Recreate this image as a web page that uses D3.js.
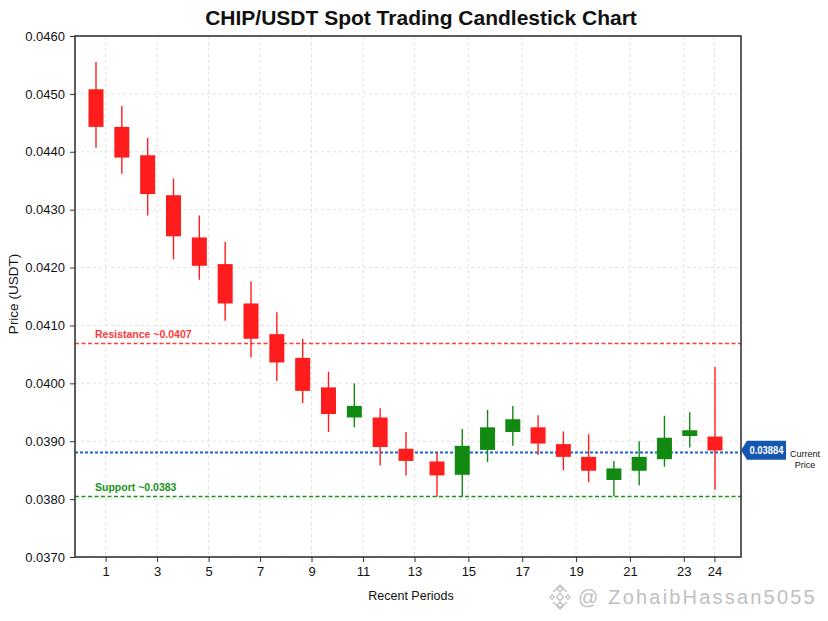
<!DOCTYPE html>
<html>
<head>
<meta charset="utf-8">
<script src="https://cdn.jsdelivr.net/npm/d3@7"></script>
<style>
body { margin: 0; background: #fff; }
text { font-family: "Liberation Sans", Arial, sans-serif; }
</style>
</head>
<body>
<script>
// candles, one per period
const Periods = [1, 2, 3, 4, 5, 6, 7, 8, 9, 10, 11, 12, 13, 14, 15, 16, 17, 18, 19, 20, 21, 22, 23, 24, 25]
const Open  = [0.04508, 0.04443, 0.04394, 0.04325, 0.04252, 0.04206, 0.04138, 0.04085, 0.04044, 0.03993, 0.03941, 0.03941, 0.03887, 0.03865, 0.03842, 0.03885, 0.03916, 0.03924, 0.03895, 0.03873, 0.03833, 0.03849, 0.03869, 0.03909, 0.03908]
const High  = [0.04555, 0.04479, 0.04424, 0.04354, 0.04290, 0.04244, 0.04176, 0.04123, 0.04077, 0.04020, 0.04000, 0.03957, 0.03916, 0.03880, 0.03921, 0.03954, 0.03961, 0.03945, 0.03917, 0.03912, 0.03866, 0.03900, 0.03944, 0.03950, 0.04028]
const Low   = [0.04407, 0.04362, 0.04290, 0.04214, 0.04179, 0.04108, 0.04045, 0.04004, 0.03966, 0.03916, 0.03924, 0.03858, 0.03841, 0.03804, 0.03804, 0.03864, 0.03892, 0.03876, 0.03850, 0.03829, 0.03805, 0.03824, 0.03856, 0.03889, 0.03816]
const Close = [0.04443, 0.04390, 0.04327, 0.04254, 0.04203, 0.04138, 0.04077, 0.04036, 0.03987, 0.03947, 0.03961, 0.03890, 0.03866, 0.03841, 0.03892, 0.03924, 0.03938, 0.03896, 0.03873, 0.03849, 0.03853, 0.03873, 0.03906, 0.03919, 0.03884]

const PriceTicks = [0.0370, 0.0380, 0.0390, 0.0400, 0.0410, 0.0420, 0.0430, 0.0440, 0.0450, 0.0460]
const PeriodTicks = [1, 3, 5, 7, 9, 11, 13, 15, 17, 19, 21, 23, 24]

const LevelNames  = ["Resistance ~0.0407", "Support ~0.0383"]
const LevelValues = [0.04069, 0.03805]
const CurrentPrice = 0.03882
const CurrentPriceText = "0.03884"

const Title = "CHIP/USDT Spot Trading Candlestick Chart"
const Watermark = "@ ZohaibHassan5055"

//Layout
const Width = 828
const Height = 621
const PlotLeft = 75
const PlotRight = 741
const PlotTop = 36
const PlotBottom = 557
const BodyWidth = 15

const Red = "#ff1c1c"
const Green = "#128a12"
const Blue = "#1f62d6"

const svg = d3.select("body").append("svg")
    .attr("width", Width)
    .attr("height", Height)
    .attr("viewBox", `0 0 ${Width} ${Height}`)

const y = d3.scaleLinear().domain([0.0370, 0.0460]).range([PlotBottom, PlotTop])
// candles and tick labels are not on one even grid in the source, so both scales are piecewise
const x = d3.scaleLinear().domain([1, 13, 14, 25]).range([96, 406, 437, 715])
const xTick = d3.scaleLinear().domain([1, 13, 23, 24]).range([105.6, 414.5, 683.8, 714.4])

// grid
const grid = svg.append("g").attr("stroke", "#e2e2e2").attr("stroke-dasharray", "3,3")
grid.selectAll(".gy").data(PriceTicks).join("line")
    .attr("x1", PlotLeft).attr("x2", PlotRight)
    .attr("y1", d => y(d)).attr("y2", d => y(d))
grid.selectAll(".gx").data(PeriodTicks).join("line")
    .attr("x1", d => xTick(d)).attr("x2", d => xTick(d))
    .attr("y1", PlotTop).attr("y2", PlotBottom)

// support / resistance
const LevelColors = ["#ff3b3b", "#17931a"]
LevelValues.forEach((v, i) => {
    svg.append("line")
        .attr("x1", PlotLeft).attr("x2", PlotRight)
        .attr("y1", Math.round(y(v)) + 0.5).attr("y2", Math.round(y(v)) + 0.5)
        .attr("stroke", LevelColors[i])
        .attr("stroke-width", 1.3)
        .attr("stroke-dasharray", "4,2.5")
    svg.append("text")
        .attr("x", PlotLeft + 20)
        .attr("y", y(v) - 5)
        .text(LevelNames[i])
        .attr("fill", LevelColors[i])
        .attr("font-size", "10.5px")
        .attr("font-weight", "bold")
})

svg.append("line")
    .attr("x1", PlotLeft).attr("x2", PlotRight)
    .attr("y1", Math.round(y(CurrentPrice)) + 0.5).attr("y2", Math.round(y(CurrentPrice)) + 0.5)
    .attr("stroke", Blue)
    .attr("stroke-width", 1.8)
    .attr("stroke-dasharray", "3,2")

// candles
const candles = svg.append("g").selectAll("g").data(Periods).join("g")
    .attr("fill", (d, i) => Close[i] >= Open[i] ? Green : Red)
    .attr("stroke", (d, i) => Close[i] >= Open[i] ? Green : Red)

candles.append("line")
    .attr("x1", d => x(d)).attr("x2", d => x(d))
    .attr("y1", (d, i) => y(High[i]))
    .attr("y2", (d, i) => y(Low[i]))
    .attr("stroke-width", 1.4)

candles.append("rect")
    .attr("x", d => x(d) - BodyWidth / 2)
    .attr("width", BodyWidth)
    .attr("y", (d, i) => y(Math.max(Open[i], Close[i])))
    .attr("height", (d, i) => Math.max(1, y(Math.min(Open[i], Close[i])) - y(Math.max(Open[i], Close[i]))))
    .attr("stroke", "none")

// axes
const yAxis = svg.append("g")
    .attr("transform", `translate(${PlotLeft},0)`)
    .call(d3.axisLeft(y).tickValues(PriceTicks).tickFormat(d3.format(".4f")).tickSize(5).tickPadding(5))
const xAxis = svg.append("g")
    .attr("transform", `translate(0,${PlotBottom})`)
    .call(d3.axisBottom(xTick).tickValues(PeriodTicks).tickFormat(d3.format("d")).tickSize(5).tickPadding(5))
for (const ax of [yAxis, xAxis]) {
    ax.select(".domain").remove()
    ax.selectAll("line").attr("stroke", "#333")
    ax.selectAll("text").attr("font-size", "13px").attr("fill", "#111").attr("font-family", null)
}

svg.append("rect")
    .attr("x", PlotLeft).attr("y", PlotTop)
    .attr("width", PlotRight - PlotLeft).attr("height", PlotBottom - PlotTop)
    .attr("fill", "none")
    .attr("stroke", "#2a2a2a")
    .attr("stroke-width", 1.5)

// current price tag
const yc = y(CurrentPrice) - 1.5
svg.append("path")
    .attr("d", `M${PlotRight},${yc} L${PlotRight + 6},${yc - 9.5} H${PlotRight + 45} V${yc + 9.5} H${PlotRight + 6} Z`)
    .attr("fill", "#1456b0")
svg.append("text")
    .attr("x", PlotRight + 25.5).attr("y", yc + 4)
    .attr("text-anchor", "middle")
    .attr("fill", "white")
    .attr("font-size", "11px")
    .attr("font-weight", "bold")
    .attr("textLength", 34)
    .attr("lengthAdjust", "spacingAndGlyphs")
    .text(CurrentPriceText)
svg.append("text")
    .attr("x", PlotRight + 64).attr("y", yc + 6.5)
    .attr("text-anchor", "middle")
    .attr("font-size", "9px")
    .attr("fill", "#111")
    .text("Current")
svg.append("text")
    .attr("x", PlotRight + 64).attr("y", yc + 18)
    .attr("text-anchor", "middle")
    .attr("font-size", "9px")
    .attr("fill", "#111")
    .text("Price")

// titles
svg.append("text")
    .attr("x", 421).attr("y", 25)
    .attr("text-anchor", "middle")
    .attr("font-size", "21px")
    .attr("font-weight", "bold")
    .attr("fill", "#111")
    .text(Title)
svg.append("text")
    .attr("transform", "translate(18,294) rotate(-90)")
    .attr("text-anchor", "middle")
    .attr("font-size", "13.5px")
    .attr("fill", "#111")
    .text("Price (USDT)")
svg.append("text")
    .attr("x", 411).attr("y", 600)
    .attr("text-anchor", "middle")
    .attr("font-size", "12.5px")
    .attr("fill", "#111")
    .text("Recent Periods")

// watermark
const mark = svg.append("g")
    .attr("transform", "translate(560,597)")
    .attr("fill", "white")
    .attr("stroke", "#c4c4c4")
    .attr("stroke-width", 1.4)
for (const [dx, dy, s] of [[0, 0, 5], [-8, 0, 3], [8, 0, 3], [0, -8, 4], [0, 8, 4]]) {
    mark.append("rect")
        .attr("x", -s / 2).attr("y", -s / 2)
        .attr("width", s).attr("height", s)
        .attr("transform", `translate(${dx},${dy}) rotate(45)`)
}
mark.append("path")
    .attr("d", "M-7,-5 L0,-12 L7,-5 M-7,5 L0,12 L7,5")
    .attr("fill", "none")
svg.append("text")
    .attr("x", 578).attr("y", 604)
    .attr("font-family", "'DejaVu Sans', sans-serif")
    .attr("font-size", "20px")
    .attr("letter-spacing", "2.2px")
    .attr("fill", "#c0c0c0")
    .text(Watermark)
</script>
</body>
</html>
